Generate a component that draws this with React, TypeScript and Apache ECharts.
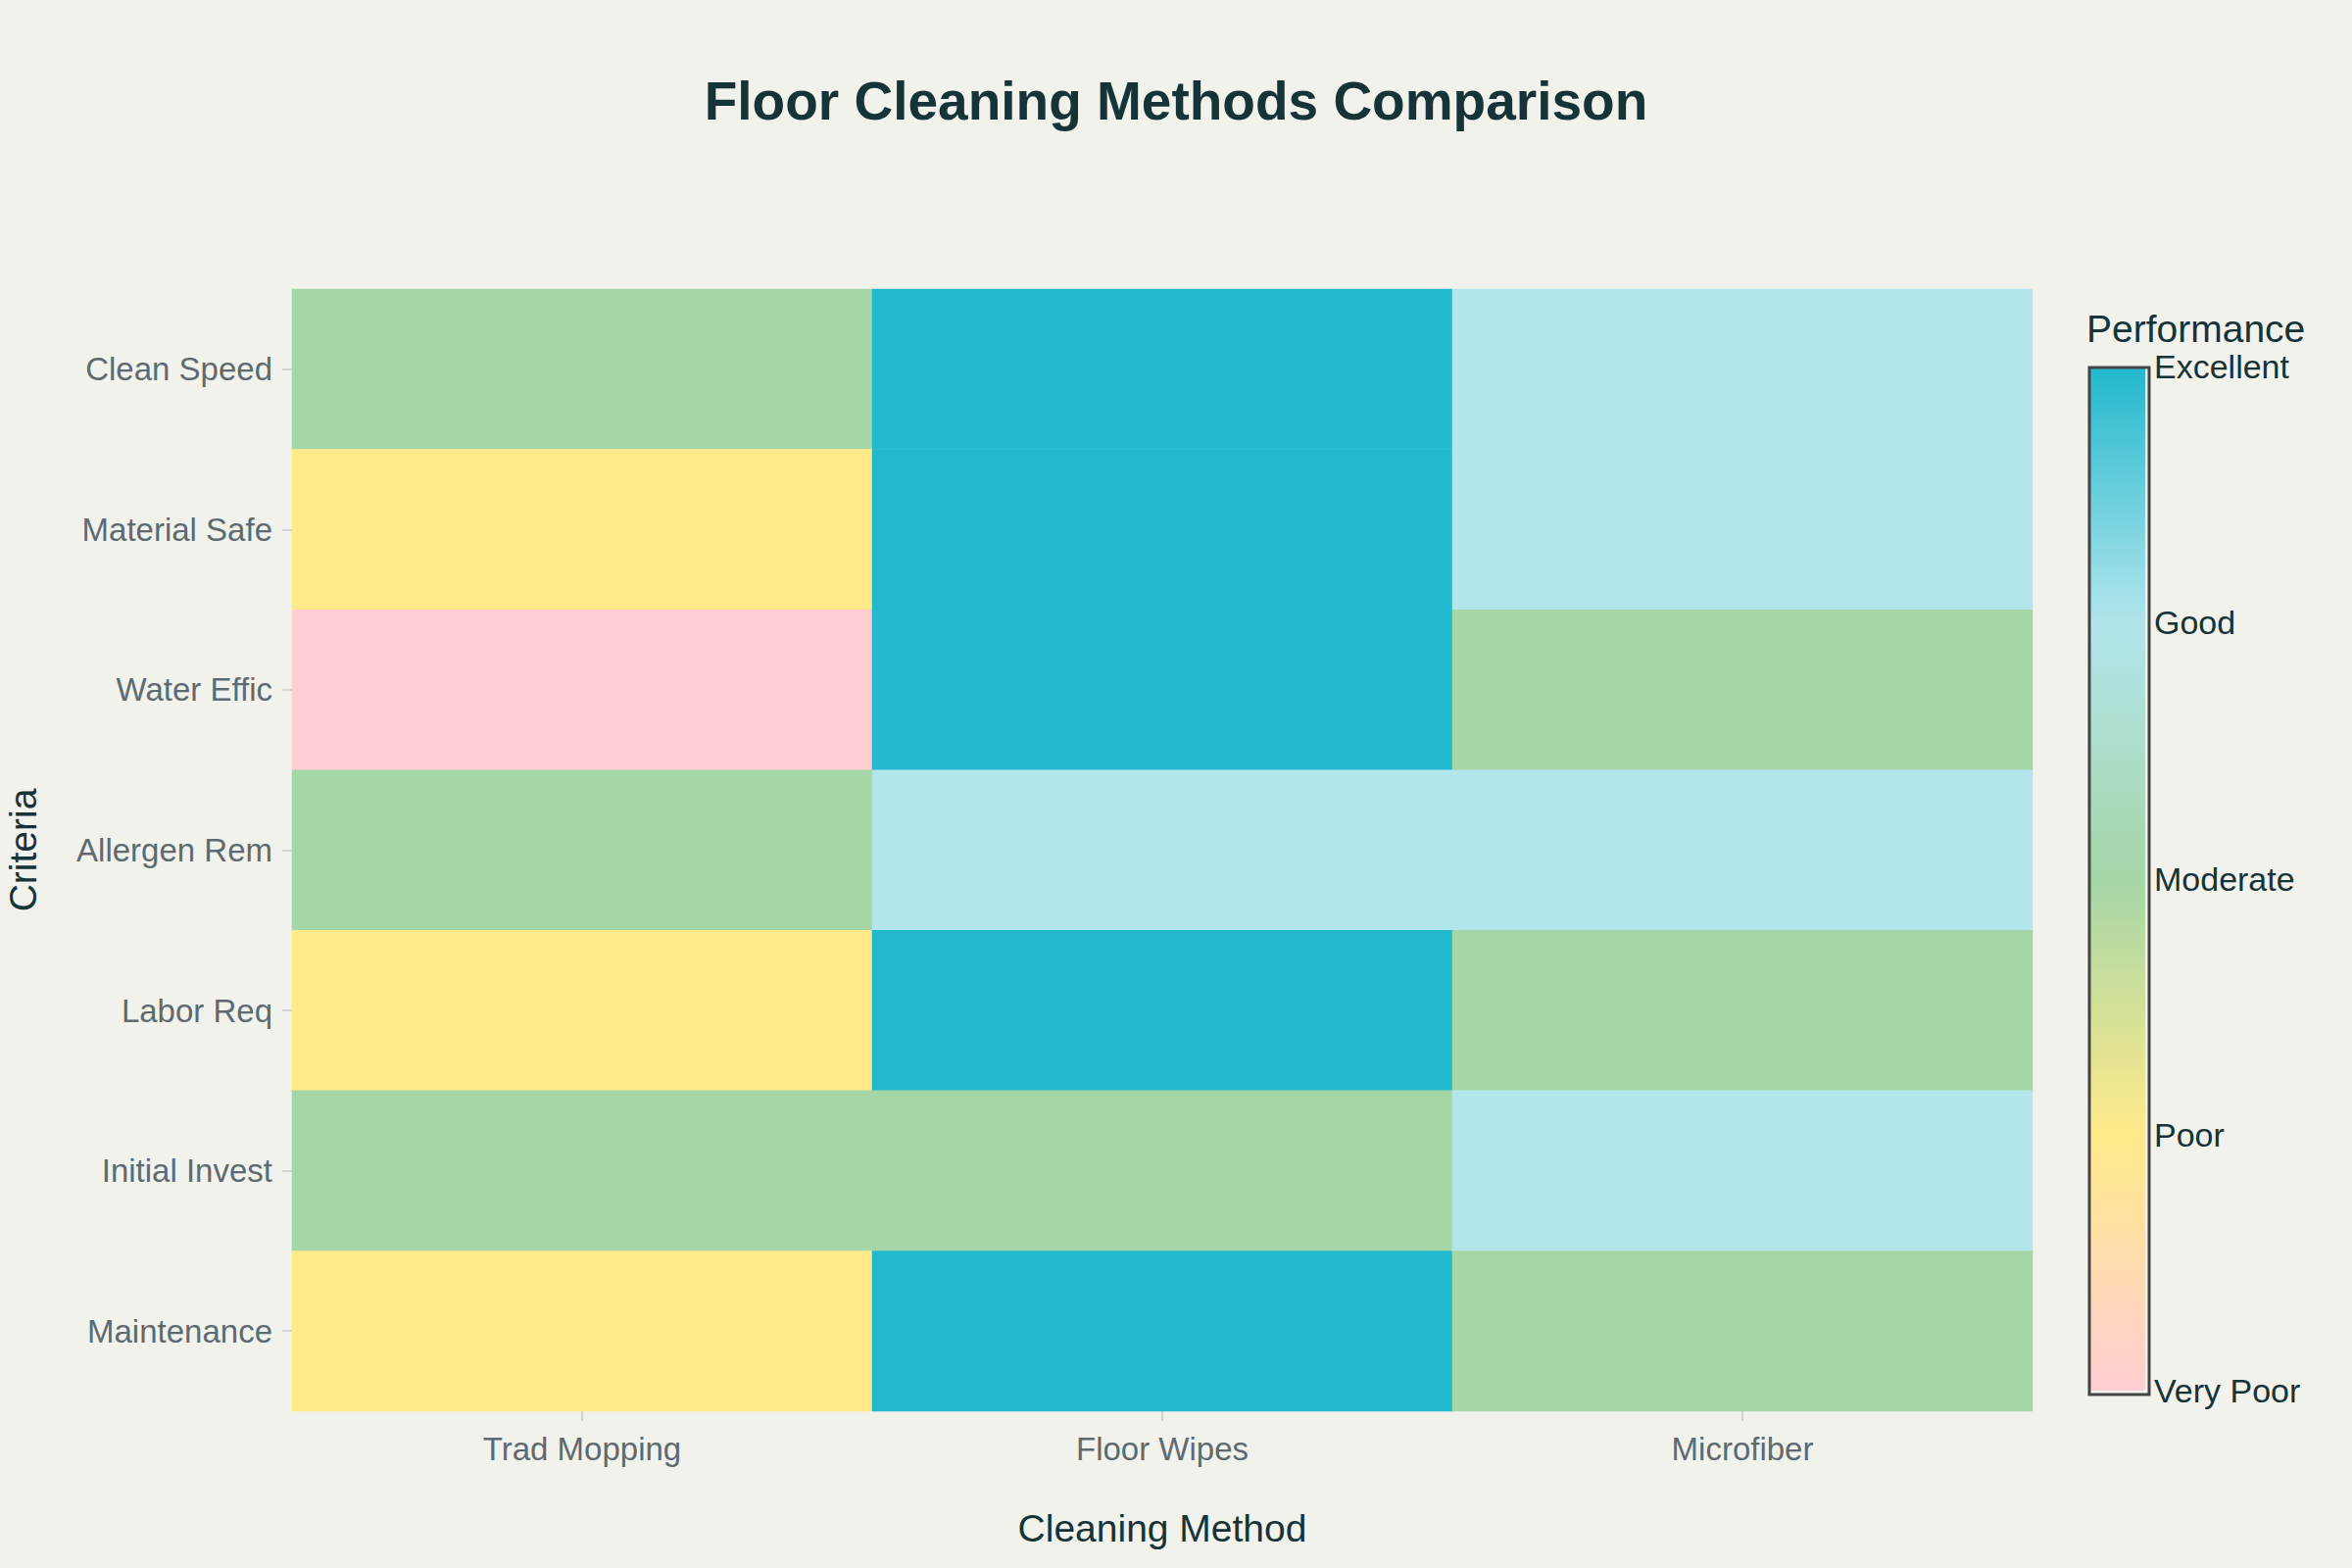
import React, { useEffect, useRef } from "react";
import * as echarts from "echarts";

const methods = ["Trad Mopping", "Floor Wipes", "Microfiber"];
const criteria = ["Clean Speed", "Material Safe", "Water Effic", "Allergen Rem", "Labor Req", "Initial Invest", "Maintenance"];
// values per criterion (row), for each method: 1=Very Poor .. 5=Excellent
const tradMopping = [3, 2, 1, 3, 2, 3, 2];
const floorWipes = [5, 5, 5, 4, 5, 3, 5];
const microfiber = [4, 4, 3, 4, 3, 4, 3];
const levelLabels = ["Very Poor", "Poor", "Moderate", "Good", "Excellent"];
const levelValues = [1, 2, 3, 4, 5];
const scaleColors = ["#FFCDD2", "#FFEA8A", "#A5D6A7", "#B2E5EC", "#22B8CD"];

const BG = "#F2F2ED";
const FONT = "'Liberation Sans', Arial, Helvetica, sans-serif";
const DARK = "#163338";
const GRAY = "#5E6A70";

export default function App() {
  const ref = useRef<HTMLDivElement>(null);
  useEffect(() => {
    document.body.style.margin = "0";
    document.body.style.overflow = "hidden";
    document.body.style.background = BG;
    if (!ref.current) return;
    const chart = echarts.init(ref.current, null, { renderer: "svg" });
    const series = [tradMopping, floorWipes, microfiber];
    const data: number[][] = [];
    series.forEach((vals, xi) => vals.forEach((v, yi) => data.push([xi, yi, v])));

    const cbLeft = 2131, cbTop = 374, cbW = 58, cbH = 1045;
    const cbLabels = levelValues.map((v, i) => ({
      type: "text",
      left: cbLeft + cbW + 9,
      top: cbTop + ((5 - v) / 4) * cbH - 17,
      style: { text: levelLabels[i], font: `34px ${FONT}`, fill: DARK },
    }));

    chart.setOption({
      animation: false,
      backgroundColor: BG,
      title: {
        text: "Floor Cleaning Methods Comparison",
        left: "center",
        top: 70,
        textStyle: { fontFamily: FONT, fontWeight: "bold", fontSize: 55, color: DARK },
      },
      grid: { left: 298, right: 326, top: 295, bottom: 160, containLabel: false, outerBoundsMode: "none" },
      xAxis: {
        type: "category",
        data: methods,
        name: "Cleaning Method",
        nameLocation: "middle",
        nameGap: 100,
        nameTextStyle: { fontFamily: FONT, fontSize: 39, color: DARK },
        axisLine: { show: false },
        axisTick: { show: true, alignWithLabel: true, length: 10, lineStyle: { color: "#CFCFCF", width: 2 } },
        axisLabel: { fontFamily: FONT, fontSize: 33, color: GRAY, margin: 22 },
        splitLine: { show: false },
      },
      yAxis: {
        type: "category",
        data: criteria,
        inverse: true,
        name: "Criteria",
        nameLocation: "middle",
        nameGap: 255,
        nameTextStyle: { fontFamily: FONT, fontSize: 39, color: DARK },
        axisLine: { show: false },
        axisTick: { show: true, alignWithLabel: true, length: 10, lineStyle: { color: "#D8D4D2", width: 2 } },
        axisLabel: { fontFamily: FONT, fontSize: 33, color: GRAY, margin: 20 },
        splitLine: { show: false },
      },
      visualMap: {
        type: "continuous",
        min: 1,
        max: 5,
        calculable: false,
        show: true,
        left: cbLeft,
        top: cbTop,
        itemWidth: cbW,
        itemHeight: cbH,
        padding: 0,
        text: ["", ""],
        showLabel: false,
        inRange: { color: scaleColors },
      },
      series: [
        {
          type: "heatmap",
          data,
          itemStyle: { borderWidth: 0 },
          emphasis: { disabled: true },
          label: { show: false },
        },
      ],
      graphic: [
        {
          type: "rect",
          left: cbLeft - 1.5,
          top: cbTop - 1.5,
          shape: { width: cbW + 3, height: cbH + 3 },
          style: { fill: "none", stroke: "#444444", lineWidth: 3 },
          z: 100,
        },
        {
          type: "text",
          left: 2129,
          top: 316,
          style: { text: "Performance", font: `39px ${FONT}`, fill: DARK },
        },
        ...cbLabels,
      ],
    });
    return () => chart.dispose();
  }, []);
  return <div ref={ref} style={{ width: 2400, height: 1600 }} />;
}
